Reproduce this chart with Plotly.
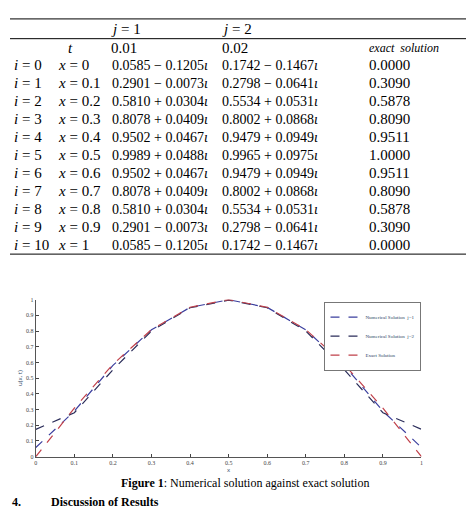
import plotly.graph_objects as go

W, H = 474, 512

x_vals = [0, 0.1, 0.2, 0.3, 0.4, 0.5, 0.6, 0.7, 0.8, 0.9, 1]
x_labels = ["0", "0.1", "0.2", "0.3", "0.4", "0.5", "0.6", "0.7", "0.8", "0.9", "1"]
j1_re = [0.0585, 0.2901, 0.5810, 0.8078, 0.9502, 0.9989, 0.9502, 0.8078, 0.5810, 0.2901, 0.0585]
j1_im = [-0.1205, -0.0073, 0.0304, 0.0409, 0.0467, 0.0488, 0.0467, 0.0409, 0.0304, -0.0073, -0.1205]
j2_re = [0.1742, 0.2798, 0.5534, 0.8002, 0.9479, 0.9965, 0.9479, 0.8002, 0.5534, 0.2798, 0.1742]
j2_im = [-0.1467, -0.0641, 0.0531, 0.0868, 0.0949, 0.0975, 0.0949, 0.0868, 0.0531, -0.0641, -0.1467]
exact = [0.0000, 0.3090, 0.5878, 0.8090, 0.9511, 1.0000, 0.9511, 0.8090, 0.5878, 0.3090, 0.0000]
t_vals = ["0.01", "0.02"]

SERIF = "Liberation Serif, DejaVu Serif, Times New Roman, serif"


def px(x):
    return x / W


def py(y):
    return 1 - y / H


def cplx(re, im):
    sign = "+" if im >= 0 else "\u2212"
    return f"{re:.4f} {sign} {abs(im):.4f}<i>\u03b9</i>"


fig = go.Figure()
fig.add_trace(go.Scatter(x=x_vals, y=j1_re, mode="lines", name="Numerical Solution  j=1",
                         line=dict(color="#3b3f9e", dash="dash", width=1.2)))
fig.add_trace(go.Scatter(x=x_vals, y=j2_re, mode="lines", name="Numerical Solution  j=2",
                         line=dict(color="#2b2d5a", dash="dash", width=1.2)))
fig.add_trace(go.Scatter(x=x_vals, y=exact, mode="lines", name="Exact Solution",
                         line=dict(color="#c0404a", dash="dash", width=1.2)))

ann = []
fs = 15
# table header
ann.append(dict(x=px(100), y=py(18), text="<i>j</i> = 1"))
ann.append(dict(x=px(212), y=py(18), text="<i>j</i> = 2"))
ann.append(dict(x=px(56), y=py(37), text="<i>t</i>"))
ann.append(dict(x=px(100), y=py(37), text=t_vals[0]))
ann.append(dict(x=px(212), y=py(37), text=t_vals[1]))
ann.append(dict(x=px(360), y=py(37), text="<i>exact  solution</i>", size=12))
row_h = 18.2
for i, xv in enumerate(x_vals):
    y = 55 + i * row_h
    ann.append(dict(x=px(2), y=py(y), text=f"<i>i</i> = {i}"))
    ann.append(dict(x=px(46), y=py(y), text=f"<i>x</i> = {x_labels[i]}"))
    ann.append(dict(x=px(101), y=py(y), text=cplx(j1_re[i], j1_im[i]), size=14))
    ann.append(dict(x=px(212), y=py(y), text=cplx(j2_re[i], j2_im[i]), size=14))
    ann.append(dict(x=px(360), y=py(y), text=f"{exact[i]:.4f}"))

annotations = []
for a in ann:
    annotations.append(dict(x=a["x"], y=a["y"], xref="paper", yref="paper", text=a["text"],
                            showarrow=False, xanchor="left", yanchor="middle",
                            font=dict(family=SERIF, size=a.get("size", fs), color="black")))

annotations.append(dict(x=0.5, y=py(487), xref="paper", yref="paper", showarrow=False,
                        text="<b>Figure 1</b>: Numerical solution against exact solution",
                        font=dict(family=SERIF, size=12, color="black")))
annotations.append(dict(x=px(0), y=py(506), xref="paper", yref="paper", showarrow=False,
                        xanchor="left", text="<b>4.          Discussion of Results</b>",
                        font=dict(family=SERIF, size=12, color="black")))

shapes = [
    dict(type="line", xref="paper", yref="paper", x0=0, x1=px(462), y0=py(8), y1=py(8),
         line=dict(color="black", width=1)),
    dict(type="line", xref="paper", yref="paper", x0=0, x1=px(462), y0=py(28), y1=py(28),
         line=dict(color="black", width=1)),
    dict(type="line", xref="paper", yref="paper", x0=0, x1=px(462), y0=py(246), y1=py(246),
         line=dict(color="black", width=1)),
]

fig.update_layout(
    width=W, height=H,
    margin=dict(l=0, r=0, t=0, b=0),
    paper_bgcolor="white", plot_bgcolor="white",
    annotations=annotations, shapes=shapes,
    xaxis=dict(domain=[px(26), px(415)], range=[0, 1], dtick=0.1, ticks="inside", ticklen=3,
               showgrid=False, zeroline=False, showline=True, linecolor="#555", mirror=False,
               tickfont=dict(size=6, family=SERIF, color="#444"),
               title=dict(text="x", font=dict(size=6), standoff=0)),
    yaxis=dict(domain=[py(451), py(292)], range=[0, 1], dtick=0.1, ticks="inside", ticklen=3,
               showgrid=False, zeroline=False, showline=True, linecolor="#555",
               tickfont=dict(size=6, family=SERIF, color="#444"),
               title=dict(text="u(x, t)", font=dict(size=6), standoff=2)),
    legend=dict(x=px(415), y=py(294), xanchor="right", yanchor="top", bgcolor="white",
                bordercolor="#777", borderwidth=1, font=dict(size=5, family=SERIF),
                tracegroupgap=0, itemwidth=30),
    showlegend=True,
)

fig.write_html("out.html")
